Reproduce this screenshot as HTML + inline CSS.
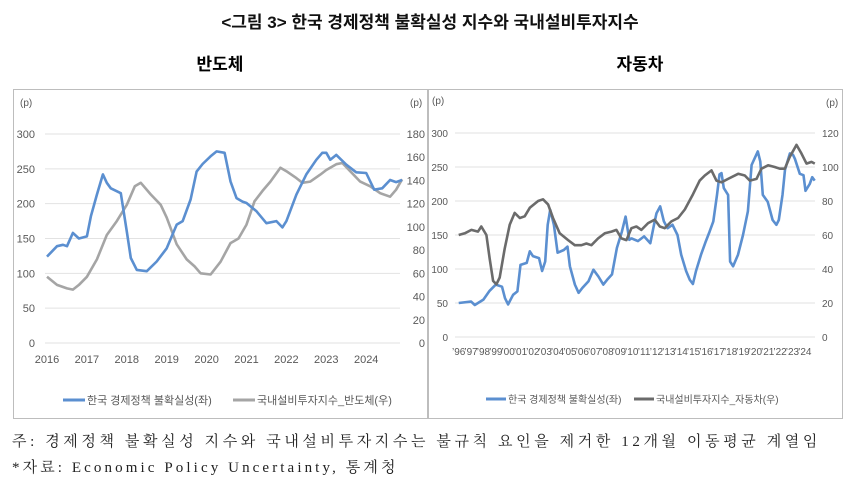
<!DOCTYPE html>
<html><head><meta charset="utf-8">
<style>
body{margin:0;background:#fff;width:860px;height:485px;overflow:hidden;font-family:"Liberation Sans","Noto Sans CJK KR",sans-serif}
.t{position:absolute;white-space:nowrap}
</style></head><body>
<div class="t" style="left:0;width:860px;text-align:center;top:8px;font-size:17px;font-weight:bold;color:#111">&lt;그림 3&gt; 한국 경제정책 불확실성 지수와 국내설비투자지수</div>
<div class="t" style="left:170px;width:100px;text-align:center;top:50px;font-size:17px;font-weight:bold">반도체</div>
<div class="t" style="left:590px;width:100px;text-align:center;top:50px;font-size:17px;font-weight:bold">자동차</div>
<svg id="c" width="860" height="485" style="position:absolute;left:0;top:0"></svg>
<div class="t" style="left:12px;top:430px;font-size:15px;letter-spacing:3.6px;font-family:'Liberation Serif','Noto Serif CJK SC',serif;color:#222">주: 경제정책 불확실성 지수와 국내설비투자지수는 불규칙 요인을 제거한 12개월 이동평균 계열임</div>
<div class="t" style="left:12px;top:456px;font-size:15px;letter-spacing:3.1px;font-family:'Liberation Serif','Noto Serif CJK SC',serif;color:#222">*자료: Economic Policy Uncertainty, 통계청</div>
<script>
const leftYears=[2016,2016.25,2016.4,2016.5,2016.65,2016.8,2017,2017.1,2017.25,2017.4,2017.5,2017.6,2017.85,2018,2018.1,2018.25,2018.5,2018.75,2019,2019.25,2019.4,2019.6,2019.75,2019.9,2020.1,2020.25,2020.45,2020.6,2020.75,2020.9,2021,2021.25,2021.5,2021.75,2021.9,2022,2022.25,2022.5,2022.75,2022.9,2023,2023.1,2023.25,2023.5,2023.75,2024,2024.2,2024.4,2024.6,2024.75,2024.9];
const leftEpu=[124,139,141,139,158,150,153,182,213,242,230,222,215,160,122,105,103,117,136,170,175,206,246,257,268,275,273,232,208,203,201,189,172,175,166,175,213,242,263,273,273,263,270,256,245,244,220,222,234,231,234];
const leftInvYears=[2016,2016.25,2016.5,2016.65,2016.8,2017,2017.25,2017.5,2017.75,2018,2018.2,2018.35,2018.6,2018.85,2019,2019.25,2019.5,2019.7,2019.85,2020.1,2020.35,2020.6,2020.8,2021,2021.2,2021.4,2021.6,2021.85,2022,2022.25,2022.4,2022.6,2022.85,2023,2023.25,2023.4,2023.6,2023.85,2024.1,2024.35,2024.6,2024.75,2024.9];
const leftInv=[57,50,47,46,50,57,72,93,105,119,135,138,128,119,108,85,72,66,60,59,70,86,90,102,122,131,139,151,148,142,138,139,145,149,154,155,148,139,135,129,126,132,141];
const rightEpuYears=[1996,1997,1997.3,1998,1998.5,1999,1999.5,1999.75,2000,2000.4,2000.75,2001,2001.5,2001.75,2002,2002.5,2002.75,2003,2003.2,2003.4,2003.7,2004,2004.5,2004.8,2005,2005.4,2005.7,2006,2006.5,2006.9,2007.3,2007.7,2008,2008.4,2008.8,2009.2,2009.5,2009.8,2010,2010.5,2011,2011.5,2011.8,2012,2012.3,2012.6,2012.9,2013.3,2013.7,2014,2014.4,2014.7,2014.95,2015.2,2015.6,2016,2016.3,2016.6,2016.9,2017.1,2017.26,2017.45,2017.8,2017.96,2018.2,2018.6,2019,2019.4,2019.7,2020.2,2020.4,2020.6,2021,2021.4,2021.7,2021.9,2022.2,2022.4,2022.8,2023.05,2023.2,2023.6,2023.9,2024.06,2024.4,2024.6,2024.8];
const rightEpu=[50,52,47,55,68,77,74,57,48,62,67,106,109,126,119,116,97,111,165,187,165,124,128,133,104,77,65,72,82,99,89,77,84,92,131,155,177,143,145,141,148,138,165,182,192,170,160,165,150,121,97,84,78,97,121,141,155,170,209,239,241,219,209,111,104,121,150,185,253,273,258,209,199,172,165,172,209,246,270,268,262,240,238,215,225,235,230];
const rightInvYears=[1996,1996.49,1997.03,1997.56,1997.83,1998.24,1998.51,1998.78,1999.05,1999.32,1999.72,2000.13,2000.53,2000.94,2001.34,2001.75,2002.42,2002.82,2003.23,2003.63,2004.17,2004.85,2005.39,2005.93,2006.33,2006.74,2007.28,2007.82,2008.36,2008.76,2009.16,2009.57,2009.97,2010.38,2010.78,2011.32,2011.86,2012.27,2012.67,2013.21,2013.75,2014.29,2014.96,2015.5,2015.91,2016.45,2016.85,2017.26,2017.8,2018.61,2019.15,2019.55,2020.09,2020.49,2021.03,2021.57,2021.98,2022.38,2022.79,2023.33,2023.73,2024.14,2024.54,2024.81];
const rightInv=[60,61,63,62,65,60,46,33,31,35,52,66,73,70,71,76,80,81,78,70,61,57,54,54,55,54,58,61,62,63,58,57,64,65,63,67,69,65,64,68,70,75,84,92,95,98,92,91,93,96,95,92,93,99,101,100,99,99,106,113,108,102,103,102];
const leftTicks=[0,50,100,150,200,250,300];
const leftRTicks=[0,20,40,60,80,100,120,140,160,180];
const leftXTicks=[2016,2017,2018,2019,2020,2021,2022,2023,2024];
const rightRTicks=[0,20,40,60,80,100,120];
const rightXTicks=['96','97','98','99','00','01','02','03','04','05','06','07','08','09','10','11','12','13','14','15','16','17','18','19','20','21','22','23','24'];

const svg=document.getElementById('c');const NS='http://www.w3.org/2000/svg';
function mk(tag,attrs,parent){const e=document.createElementNS(NS,tag);for(const k in attrs)e.setAttribute(k,attrs[k]);(parent||svg).appendChild(e);return e;}
function txt(x,y,s,anchor,size,name,fill){const t=mk('text',{x:x,y:y,'text-anchor':anchor,'font-size':size,fill:fill||'#595959','font-family':'Liberation Sans, Noto Sans CJK KR, sans-serif'});t.textContent=s;


return t;}
function line(xs,ys,fx,fy,color,name){const d=xs.map((x,i)=>(i?'L':'M')+fx(x).toFixed(1)+','+fy(ys[i]).toFixed(1)).join('');const p=mk('path',{d:d,fill:'none',stroke:color,'stroke-width':2.6,'stroke-linejoin':'round'});

}

const b1=mk('rect',{x:13.5,y:89.5,width:414,height:329,fill:'none',stroke:'#bdbdbd'});


const b2=mk('rect',{x:428.5,y:89.5,width:414,height:329,fill:'none',stroke:'#bdbdbd'});



const lx=y=>47+(y-2016)*39.9, ly=v=>343-v/300*209, lyr=v=>343-v/180*209;
leftTicks.forEach(v=>{const g=mk('line',{x1:45,x2:400,y1:ly(v),y2:ly(v),stroke:'#e2e2e2'});


txt(35,ly(v)+4,String(v),'end',11,'left-y-tick');});
leftRTicks.forEach(v=>txt(425,lyr(v)+4,String(v),'end',11,'left-y2-tick'));
leftXTicks.forEach(v=>txt(lx(v),363,String(v),'middle',11,'left-x-tick'));
txt(20,106,'(p)','start',10,'left-y-unit');txt(410,106,'(p)','start',10,'left-y2-unit');
line(leftInvYears,leftInv,lx,lyr,'#a5a5a5','left-investment-line');
line(leftYears,leftEpu,lx,ly,'#5b8fd0','left-epu-line');
let l=mk('line',{x1:63,x2:85,y1:400,y2:400,stroke:'#5b8fd0','stroke-width':3});


txt(87,404,'한국 경제정책 불확실성(좌)','start',11,'left-legend-epu');
l=mk('line',{x1:233,x2:255,y1:400,y2:400,stroke:'#a5a5a5','stroke-width':3});


txt(257,404,'국내설비투자지수_반도체(우)','start',11,'left-legend-inv');

const rx=y=>458.7+(y-1996)*12.36, ry=v=>337-v/300*204, ryr=v=>337-v/120*204;
leftTicks.forEach(v=>{const g=mk('line',{x1:455,x2:815,y1:ry(v),y2:ry(v),stroke:'#e2e2e2'});


txt(448,ry(v)+4,String(v),'end',10,'right-y-tick');});
rightRTicks.forEach(v=>txt(822,ryr(v)+4,String(v),'start',10,'right-y2-tick'));
rightXTicks.forEach((s,i)=>txt(rx(1996+i),355,'\u2019'+s,'middle',10,'right-x-tick'));
txt(432,104,'(p)','start',10,'right-y-unit');txt(826,106,'(p)','start',10,'right-y2-unit');
line(rightEpuYears,rightEpu,rx,ry,'#5b8fd0','right-epu-line');
line(rightInvYears,rightInv,rx,ryr,'#6b6b6b','right-investment-line');
l=mk('line',{x1:486,x2:506,y1:399,y2:399,stroke:'#5b8fd0','stroke-width':3});


txt(508,403,'한국 경제정책 불확실성(좌)','start',10,'right-legend-epu');
l=mk('line',{x1:634,x2:654,y1:399,y2:399,stroke:'#6b6b6b','stroke-width':3});


txt(656,403,'국내설비투자지수_자동차(우)','start',10,'right-legend-inv');
</script>
</body></html>
